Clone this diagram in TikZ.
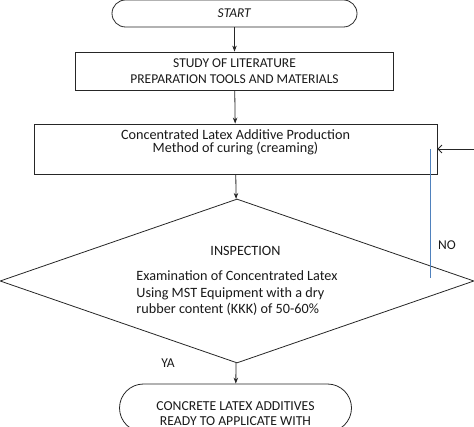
\documentclass[tikz,border=0pt]{standalone}
\usepackage{fontspec}
\setmainfont{Carlito}
\usetikzlibrary{shapes.geometric,arrows.meta}

\begin{document}
\begin{tikzpicture}[x=1pt, y=-1pt,
  every node/.style={font=\fontsize{13.5}{16}\selectfont, text=black!90},
  box/.style={draw=black!85, line width=0.8pt, rectangle, align=center, inner sep=0pt},
  term/.style={draw=black!85, line width=0.8pt, rectangle, rounded corners=#1, align=center, inner sep=0pt},
  arrow/.style={-{Stealth[length=6pt,width=4.5pt]}, line width=0.8pt, draw=black!85}]
\useasboundingbox (0,0) rectangle (474,427);
\node[term=13.5pt, minimum width=245pt, minimum height=27pt] (start) at (234.5,13.5) {\textit{START}};
\node[box, minimum width=318pt, minimum height=38pt] (study) at (234.5,71) {STUDY OF LITERATURE\\PREPARATION TOOLS AND MATERIALS};
\draw[arrow] (start) -- (study);
\node[box, minimum width=403pt, minimum height=50pt, text height=29pt, text depth=21pt, font=\fontsize{14.2}{13.5}\selectfont] (prod) at (235.5,149) {Concentrated Latex Additive Production\\Method of curing (creaming)};
\draw[arrow] (study) -- (prod);
\node[diamond, shape aspect=2.89, draw=black!85, line width=0.8pt, minimum width=474pt, minimum height=164pt, inner sep=0pt, align=left, font=\fontsize{14.2}{16.5}\selectfont] (insp) at (237,281)
  {\hspace*{74pt}INSPECTION\\[9pt]Examination of Concentrated Latex\hspace*{17pt}\\Using MST Equipment with a dry\\rubber content (KKK) of 50-60\%};
\draw[arrow] (prod) -- (insp);
\node[term=24pt, minimum width=232pt, minimum height=48pt, text height=41pt, text depth=7pt, font=\fontsize{13.7}{14}\selectfont] (ready) at (235.5,408) {CONCRETE LATEX ADDITIVES\\READY TO APPLICATE WITH};
\draw[arrow] (insp) -- (ready);
% loop back
\node (no) at (447,245) {NO};
\node (ya) at (168,363) {YA};
\coordinate (noTop) at (430,149);
\coordinate (noBot) at (430,278);
\draw[line width=0.8pt, color={rgb,255:red,79;green,129;blue,189}] (noTop) -- (noBot);
\coordinate (back) at (476,149);
\draw[-{Straight Barb[length=4pt,width=8pt]}, line width=0.8pt, draw=black!85] (back) -- (prod.east);
\end{tikzpicture}
\end{document}
